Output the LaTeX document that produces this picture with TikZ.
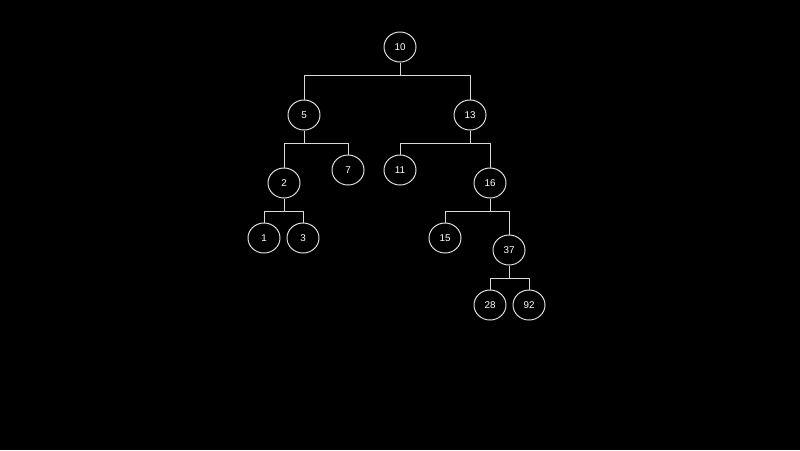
\documentclass[tikz,border=0pt]{standalone}
\usepackage{fontspec}
\setmainfont{Liberation Sans}
\usetikzlibrary{shapes.geometric}
\tikzset{
	key/.style={ellipse,draw=white!88!black,line width=0.7pt,minimum width=0.8cm,minimum height=0.75cm,inner sep=0pt,text=white,font=\fontsize{7}{8}\selectfont},
	link/.style={draw=white!85!black,line width=0.7pt}
}
\begin{document}
\begin{tikzpicture}[x=0.025cm,y=-0.025cm,line join=round]
	\fill[black] (0,0) rectangle (800,450);
	\useasboundingbox (0,0) rectangle (800,450);
	% keys
	\node[key] (n10) at (400,47) {10};
	\node[key] (n5) at (304,115) {5};
	\node[key] (n13) at (470,115) {13};
	\node[key] (n7) at (348,170) {7};
	\node[key] (n11) at (400,170) {11};
	\node[key] (n2) at (284,183) {2};
	\node[key] (n16) at (490,183) {16};
	\node[key] (n1) at (264,238) {1};
	\node[key] (n3) at (303,238) {3};
	\node[key] (n15) at (445,238) {15};
	\node[key] (n37) at (509,250) {37};
	\node[key] (n28) at (490,305) {28};
	\node[key] (n92) at (529,305) {92};
	% links
	\foreach \p/\c in {n10/n5,n10/n13,n5/n2,n5/n7,n13/n11,n13/n16,n2/n1,n2/n3,n16/n15,n16/n37,n37/n28,n37/n92}
		\draw[link] (\p.south) -- ++(0,13) -| (\c.north);
\end{tikzpicture}
\end{document}
